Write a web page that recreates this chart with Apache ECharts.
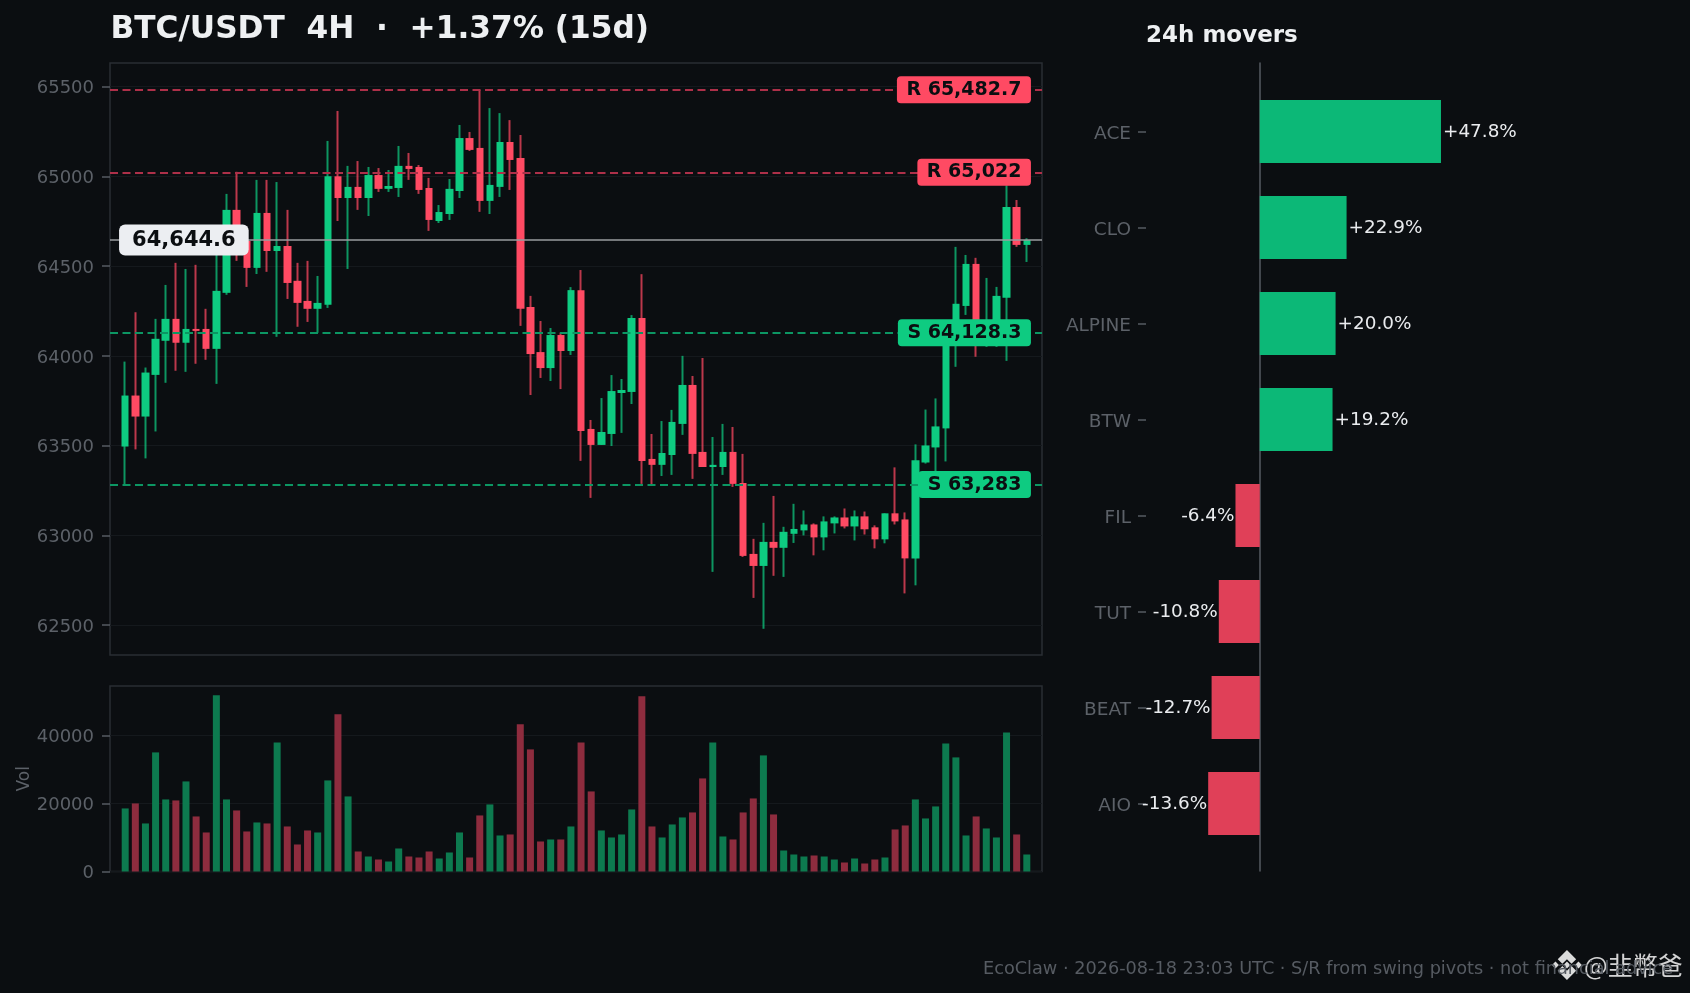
<!DOCTYPE html>
<html><head><meta charset="utf-8">
<style>html,body{margin:0;padding:0;background:#0b0e11}#c{width:1690px;height:993px}</style>
<script src="https://cdn.jsdelivr.net/npm/echarts@6/dist/echarts.min.js"></script>
</head><body><div id="c"></div>
<script>
const opens=[63495,63779,63662,63894,64084,64206,64073,64150,64150,64039,64351,64813,64640,64490,64796,64584,64612,64418,64306,64262,64284,65000,64879,64941,64879,65007,64930,64935,65058,65052,64935,64751,64790,64918,65213,65158,64863,64941,65191,65102,64272,64021,63932,64116,64027,64366,63593,63504,63565,63793,63799,64211,63426,63393,63448,63621,63838,63465,63381,63381,63465,63292,62897,62830,62964,62931,63009,63028,63061,62989,63067,63100,63050,63106,63045,62978,63123,63089,62872,63406,63490,63596,64130,64278,64512,64090,64160,64323,64829,64618];
const closes=[63779,63662,63907,64095,64206,64073,64150,64139,64039,64362,64813,64640,64490,64796,64584,64612,64406,64295,64262,64295,65000,64879,64941,64879,65007,64930,64946,65058,65041,64924,64757,64801,64930,65213,65147,64863,64952,65191,65091,64262,64010,63932,64116,64027,64366,63582,63504,63576,63804,63810,64211,63415,63393,63459,63632,63838,63454,63381,63393,63465,63287,62886,62830,62964,62931,63020,63036,63061,62989,63078,63100,63050,63106,63034,62978,63123,63078,62872,63418,63501,63607,64150,64290,64512,64120,64160,64334,64829,64618,64645];
const lows=[63284,63479,63429,63579,63850,63917,63911,63956,63978,63844,64340,64529,64384,64456,64468,64106,64317,64162,64189,64128,64267,64751,64484,64813,64779,64913,64913,64885,64980,64902,64696,64740,64757,64879,65141,64802,64790,64885,64924,64167,63782,63877,63860,63815,64005,63415,63209,63504,63498,63571,63732,63287,63281,63331,63337,63560,63315,63381,62797,63337,63270,62880,62652,62480,62775,62769,62958,63000,62889,62917,63011,63039,62972,63005,62928,62956,63061,62677,62722,63400,63320,63412,63939,64228,63995,64050,64050,63972,64607,64523];
const highs=[63968,64243,63935,64206,64395,64518,64484,64507,64262,64620,64902,65025,64700,64980,64980,64968,64813,64518,64529,64445,65197,65364,65058,65085,65052,65046,65035,65169,65130,65063,64991,64840,64985,65286,65247,65482,65380,65352,65313,65230,64334,64194,64155,64130,64383,64478,63643,63765,63893,63871,64227,64455,63565,63637,63699,64000,63888,63988,63548,63621,63604,63454,62981,63070,63220,63048,63176,63139,63067,63106,63106,63150,63139,63133,63056,63123,63379,63128,63507,63701,63763,64190,64607,64562,64546,64434,64384,64950,64868,64655];
const volumes=[18530,20000,14118,35000,21176,20882,26470,16176,11470,51765,21176,17941,11765,14412,14118,37941,13235,7941,12059,11470,26765,46176,22059,5882,4412,3529,2941,6765,4412,4118,5882,3824,5588,11470,4118,16470,19706,10588,10882,43235,35882,8823,9412,9412,13235,37941,23529,12059,10000,10882,18235,51470,13235,10000,13823,15882,17353,27353,37941,10294,9412,17353,21470,34118,16765,6176,5000,4412,4706,4412,3529,2647,3824,2353,3529,4118,12353,13529,21176,15588,19118,37647,33529,10588,16176,12647,10000,40882,10882,5000];
const levels=[{tag:'R',value:65482.7,text:'R 65,482.7'},{tag:'R',value:65022,text:'R 65,022'},{tag:'S',value:64128.3,text:'S 64,128.3'},{tag:'S',value:63283,text:'S 63,283'}];
const lastPrice=64644.6, lastPriceText='64,644.6';
const priceTicks=[62500,63000,63500,64000,64500,65000,65500];
const volTicks=[0,20000,40000];
const moverNames=['ACE','CLO','ALPINE','BTW','FIL','TUT','BEAT','AIO'];
const moverValues=[47.8,22.9,20.0,19.2,-6.4,-10.8,-12.7,-13.6];

const UP='#0ecb81',DOWN='#ff4a63',WICK_UP='rgba(14,203,129,0.72)',WICK_DOWN='rgba(255,74,99,0.72)',BG='#0b0e11',SPINE='#2a2e33',TICK='#565b62',LABEL='#5c6168',GRID='#15191d';
const FONT='"DejaVu Sans"';
const cats=['',...opens.map((_,i)=>String(i+1)),''];
const pad=a=>[['-','-','-','-'],...a,['-','-','-','-']];
const full=pad(opens.map((o,i)=>[o,closes[i],lows[i],highs[i]]));
const bodies=pad(opens.map((o,i)=>[o,closes[i],Math.min(o,closes[i]),Math.max(o,closes[i])]));
const volData=['-',...volumes.map((v,i)=>({value:v,itemStyle:{color:closes[i]>=opens[i]?'#0d7a4f':'#8e2c3e'}})),'-'];

const chart=echarts.init(document.getElementById('c'),null,{renderer:'canvas'});
const gridBase={show:true,backgroundColor:'transparent',borderColor:SPINE,borderWidth:1.5};
const yLab={color:LABEL,fontSize:18,fontFamily:FONT,margin:16,verticalAlign:'top',padding:[-7,0,0,0],formatter:v=>String(v),hideOverlap:false};
chart.setOption({
 animation:false,backgroundColor:BG,
 title:[
  {text:'BTC/USDT  4H  ·  +1.37% (15d)',left:105.5,top:9,textStyle:{color:'#eef0f2',fontSize:31.2,fontWeight:'bold',fontFamily:FONT}},
  {text:'24h movers',left:1141,top:19.5,textStyle:{color:'#eef0f2',fontSize:23,fontWeight:'bold',fontFamily:FONT}},
  {text:'EcoClaw · 2026-08-18 23:03 UTC · S/R from swing pivots · not financial advice',left:978,top:955,textStyle:{color:'#565b62',fontSize:17.7,fontWeight:'normal',fontFamily:FONT}}
 ],
 grid:[
  {...gridBase,left:110,top:63,width:932,height:592},
  {...gridBase,left:110,top:686,width:932,height:185.5},
  {left:1146,top:83.5,width:455,height:768},
  {left:1146,top:63,width:455,height:808}
 ],
 xAxis:[
  {gridIndex:0,type:'category',data:cats,axisLine:{show:false},axisTick:{show:false},axisLabel:{show:false},splitLine:{show:false}},
  {gridIndex:1,type:'category',data:cats,axisLine:{show:false},axisTick:{show:false},axisLabel:{show:false},splitLine:{show:false}},
  {gridIndex:2,type:'value',min:-30,max:90,show:false},
  {gridIndex:3,type:'value',min:-30,max:90,show:false}
 ],
 yAxis:[
  {gridIndex:0,type:'value',min:62334,max:65631,scale:true,axisLine:{show:false},
   axisTick:{show:true,length:8,lineStyle:{color:TICK,width:1.5},customValues:priceTicks},
   axisLabel:{...yLab,customValues:priceTicks},
   splitLine:{show:true,lineStyle:{color:GRID,width:1}}},
  {gridIndex:1,type:'value',min:0,max:54510,axisLine:{show:false},
   axisTick:{show:true,length:8,lineStyle:{color:TICK,width:1.5},customValues:volTicks},
   axisLabel:{...yLab,customValues:volTicks},
   name:'Vol',nameLocation:'middle',nameMoveOverlap:false,nameGap:77,nameTextStyle:{color:LABEL,fontSize:17,fontFamily:FONT},
   splitLine:{show:true,lineStyle:{color:GRID,width:1}}},
  {gridIndex:2,type:'category',inverse:true,data:moverNames,axisLine:{show:false,onZero:false},
   axisTick:{show:true,length:8,alignWithLabel:true,lineStyle:{color:TICK,width:1.5}},
   axisLabel:{color:LABEL,fontSize:18.5,fontFamily:FONT,margin:15,verticalAlign:'top',padding:[-7,0,0,0]},splitLine:{show:false}},
  {gridIndex:3,type:'value',min:0,max:1,axisLine:{show:true,onZero:true,lineStyle:{color:'#565b62',width:1.5}},axisTick:{show:false},axisLabel:{show:false},splitLine:{show:false}}
 ],
 series:[
  {name:'wicks',type:'candlestick',xAxisIndex:0,yAxisIndex:0,data:full,barWidth:1,z:2,silent:true,
   itemStyle:{color:WICK_UP,color0:WICK_DOWN,borderColor:WICK_UP,borderColor0:WICK_DOWN,borderWidth:2}},
  {name:'bodies',type:'candlestick',xAxisIndex:0,yAxisIndex:0,data:bodies,barWidth:8,z:3,silent:true,
   itemStyle:{color:UP,color0:DOWN,borderColor:UP,borderColor0:DOWN,borderWidth:0}},
  {name:'levels',type:'scatter',xAxisIndex:0,yAxisIndex:0,z:6,symbolSize:0,silent:true,itemStyle:{opacity:1},
   data:levels.map(l=>({value:[cats.length-1,l.value],
     label:{show:true,opacity:1,position:'left',distance:6,formatter:l.text,color:BG,fontSize:19,fontWeight:'bold',fontFamily:FONT,
       backgroundColor:l.tag==='R'?DOWN:UP,borderRadius:4,padding:[4,9.5,4,9.5]}})),
   markLine:{silent:true,symbol:'none',z:4,label:{show:false},
     data:levels.map(l=>({yAxis:l.value,lineStyle:{type:[8,4.5],width:2,color:l.tag==='R'?'#ad3049':'#0c9663'}}))}},
  {name:'last',type:'scatter',xAxisIndex:0,yAxisIndex:0,z:7,symbolSize:0,silent:true,itemStyle:{opacity:1},
   data:[{value:[0,lastPrice],label:{show:true,opacity:1,position:'right',distance:4,formatter:lastPriceText,color:BG,fontSize:21,fontWeight:'bold',fontFamily:FONT,
       backgroundColor:'#eceef2',borderRadius:6,padding:[5,13,5,13]}}],
   markLine:{silent:true,symbol:'none',z:5,label:{show:false},data:[{yAxis:lastPrice,lineStyle:{type:'solid',width:1.5,color:'#9a9c9f'}}]}},
  {name:'Vol',type:'bar',xAxisIndex:1,yAxisIndex:1,data:volData,barWidth:7,silent:true},
  {name:'movers',type:'bar',xAxisIndex:2,yAxisIndex:2,barWidth:63,silent:true,
   data:moverValues.map(v=>({value:v,itemStyle:{color:v>=0?'#0cb877':'#e04058'},
     label:{show:true,position:v>=0?'right':'left',distance:v>=0?2:1,offset:[0,1],formatter:(v>=0?'+':'')+v.toFixed(1)+'%',color:'#eaecef',fontSize:18.4,fontFamily:FONT}}))}
 ],
 graphic:[
  {type:'group',left:1552,top:950,scaleX:1.15,scaleY:1.15,silent:true,children:[
    {type:'polygon',shape:{points:[[13,0],[21,8],[17,12],[13,8],[9,12],[5,8]]},style:{fill:'rgba(255,255,255,0.85)'}},
    {type:'polygon',shape:{points:[[13,26],[21,18],[17,14],[13,18],[9,14],[5,18]]},style:{fill:'rgba(255,255,255,0.85)'}},
    {type:'polygon',shape:{points:[[13,10],[16,13],[13,16],[10,13]]},style:{fill:'rgba(255,255,255,0.85)'}},
    {type:'polygon',shape:{points:[[3,10],[6,13],[3,16],[0,13]]},style:{fill:'rgba(255,255,255,0.85)'}},
    {type:'polygon',shape:{points:[[23,10],[26,13],[23,16],[20,13]]},style:{fill:'rgba(255,255,255,0.85)'}}
  ]},
  {type:'text',left:1584,top:953,silent:true,style:{text:'@韭幣爸',fill:'rgba(255,255,255,0.82)',fontSize:25,fontFamily:'"Noto Sans CJK TC"'}}
 ]
});
</script></body></html>
